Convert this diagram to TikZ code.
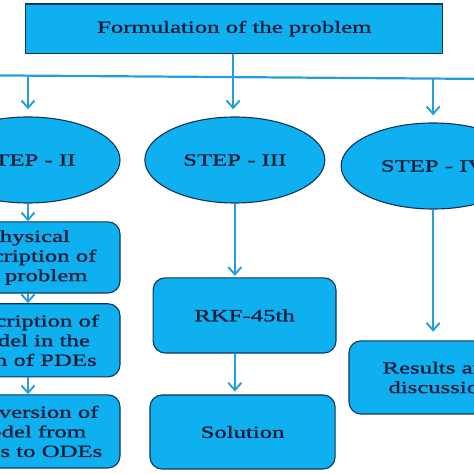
\documentclass[tikz,border=0pt]{standalone}
\usepackage{xcolor}
\usepackage{fontspec}
\setmainfont{Liberation Serif}[FakeStretch=1.45,FakeBold=1.2]
\usetikzlibrary{shapes.geometric,arrows.meta}

\begin{document}
\begin{tikzpicture}[
  font=\fontsize{17}{19.5}\selectfont,
  box/.style={shape=rectangle,rounded corners=0.42cm,draw=cbd,line width=1.1pt,fill=cfv,text=clv,align=center,inner sep=0pt},
  oval/.style={shape=ellipse,draw=cbd,line width=1.1pt,fill=cfv,text=clv,inner sep=0pt},
  link/.style={draw=cln,line width=2.2pt,-{Straight Barb[length=0.26cm,width=0.46cm,line width=1.9pt]}},
  plain/.style={draw=cln,line width=2.2pt}]
\definecolor{cfv}{rgb}{0.06,0.69,0.94}
\definecolor{cbd}{rgb}{0.06,0.2,0.38}
\definecolor{clv}{rgb}{0.07,0.11,0.22}
\definecolor{cln}{rgb}{0.14,0.62,0.86}
%
\useasboundingbox (0,0) rectangle (16.59,16.59);
\clip (0,0) rectangle (16.59,16.59);
%
\node[box,rounded corners=0pt,minimum width=14.6cm,minimum height=1.72cm] (v0) at (8.2,15.59) {Formulation of the problem};
\node[oval,minimum width=6.44cm,minimum height=3.01cm] (v1) at (0.98,10.99) {STEP - II};
\node[oval,minimum width=6.3cm,minimum height=3.01cm] (v2) at (8.22,10.99) {STEP - III};
\node[oval,minimum width=6.44cm,minimum height=3.01cm] (v3) at (15.16,10.78) {STEP - IV};
\node[box,minimum width=6.44cm,minimum height=2.49cm] (v4) at (0.98,7.58) {Physical\\description of\\the problem};
\node[box,minimum width=6.44cm,minimum height=2.56cm] (v5) at (0.98,4.68) {Description of\\model in the\\form of PDEs};
\node[box,minimum width=6.44cm,minimum height=2.56cm] (v6) at (0.98,1.49) {Conversion of\\model from\\PDEs to ODEs};
\node[box,minimum width=6.4cm,minimum height=2.63cm] (v7) at (8.56,5.55) {RKF-45th};
\node[box,minimum width=6.48cm,minimum height=2.59cm] (v8) at (8.49,1.47) {Solution};
\node[box,minimum width=6.37cm,minimum height=2.56cm] (v9) at (15.4,3.38) {Results and\\discussion};
%
\coordinate (h0) at (0,13.95);
\coordinate (h1) at (16.59,13.83);
\coordinate (h2) at (8.16,13.89);
%
\draw[plain] (h0) -- (h1);
\draw[plain] (v0.south -| h2) -- (h2);
\draw[link,shorten >=0.25cm] (v1.north |- h0) -- (v1.north);
\draw[link,shorten >=0.25cm] (h2) -- (v2.north -| h2);
\draw[link,shorten >=0.25cm] (v3.north |- h1) -- (v3.north);
\draw[link] (v1.south) -- (v4.north);
\draw[link] (v4.south) -- (v5.north);
\draw[link] (v5.south) -- (v6.north);
\draw[link,shorten >=0.05cm] (v2.south) -- (v2.south |- v7.north);
\draw[link,shorten >=0.1cm] (v2.south |- v7.south) -- (v2.south |- v8.north);
\draw[link,shorten >=0.3cm] (v3.south) -- (v3.south |- v9.north);
%
\end{tikzpicture}
\end{document}
